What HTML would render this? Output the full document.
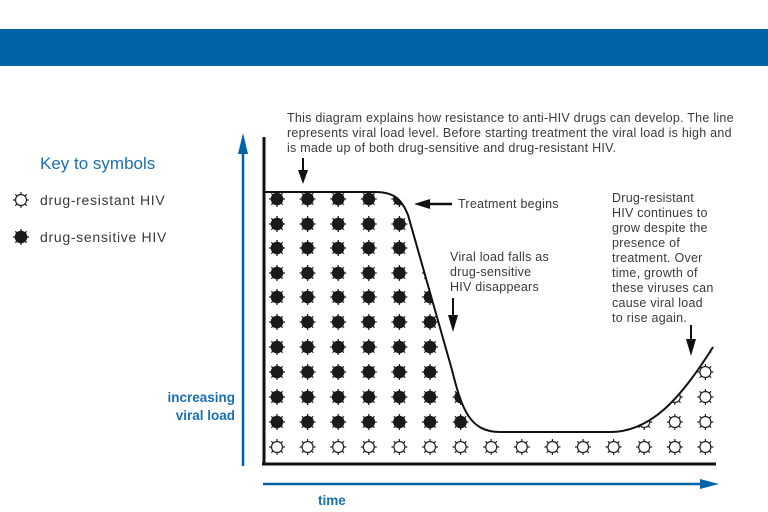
<!DOCTYPE html>
<html><head><meta charset="utf-8"><style>
body{margin:0;width:768px;height:512px;background:#fff;overflow:hidden;position:relative;font-family:"Liberation Sans",sans-serif}
</style></head><body>
<svg width="768" height="512" viewBox="0 0 768 512" xmlns="http://www.w3.org/2000/svg" style="position:absolute;left:0;top:0">
<defs>
<g id="f"><g stroke="#222" stroke-width="1.3"><line x1="0" y1="-8" x2="0" y2="8"/><line x1="-8" y1="0" x2="8" y2="0"/><line x1="-5.7" y1="-5.7" x2="5.7" y2="5.7"/><line x1="-5.7" y1="5.7" x2="5.7" y2="-5.7"/></g><circle r="6.3" fill="#1a1a1a"/></g>
<g id="o"><g stroke="#222" stroke-width="1.2"><line x1="0" y1="-8" x2="0" y2="8"/><line x1="-8" y1="0" x2="8" y2="0"/><line x1="-5.7" y1="-5.7" x2="5.7" y2="5.7"/><line x1="-5.7" y1="5.7" x2="5.7" y2="-5.7"/></g><circle r="5.5" fill="#fff" stroke="#222" stroke-width="1.2"/></g>
<clipPath id="c"><path d="M264,192 L375,192 C395,192 402,200 408,215 L452,370 C462,410 470,432 500,432 L610,432 C650,432 680,400 713,347 L716,347 L716,462 L264,462 Z"/></clipPath>
</defs>
<rect x="0" y="29" width="768" height="37" fill="#0063a7"/>
<g id="grid"></g>
<path d="M264,192 L375,192 C395,192 402,200 408,215 L452,370 C462,410 470,432 500,432 L610,432 C650,432 680,400 713,347" fill="none" stroke="#111" stroke-width="2"/>
<line x1="264" y1="137" x2="264" y2="465" stroke="#111" stroke-width="3"/>
<line x1="262" y1="464" x2="716" y2="464" stroke="#111" stroke-width="3"/>
<line x1="243" y1="150" x2="243" y2="466" stroke="#0063a7" stroke-width="2.5"/>
<polygon points="243,133 238,154 248,154" fill="#0063a7"/>
<line x1="263" y1="484" x2="702" y2="484" stroke="#0063a7" stroke-width="2.5"/>
<polygon points="719,484 700,479 700,489" fill="#0063a7"/>
<line x1="303" y1="158" x2="303" y2="172" stroke="#111" stroke-width="2"/><polygon points="303,184 298,170 308,170" fill="#111"/>
<line x1="428" y1="204" x2="452" y2="204" stroke="#111" stroke-width="2.5"/><polygon points="414,204 430,199 430,209" fill="#111"/>
<line x1="453" y1="298" x2="453" y2="318" stroke="#111" stroke-width="2"/><polygon points="453,332 448,315 458,315" fill="#111"/>
<line x1="691" y1="325" x2="691" y2="342" stroke="#111" stroke-width="2"/><polygon points="691,356 686,339 696,339" fill="#111"/>
<use href="#o" x="21" y="200"/><use href="#f" x="21" y="237"/>
<g font-family="Liberation Sans, sans-serif" fill="#3a3a3a" font-size="12.5" letter-spacing="0.25">
<text x="287" y="122">This diagram explains how resistance to anti-HIV drugs can develop. The line</text>
<text x="287" y="137">represents viral load level. Before starting treatment the viral load is high and</text>
<text x="287" y="152">is made up of both drug-sensitive and drug-resistant HIV.</text>
<text x="458" y="208">Treatment begins</text>
<text x="450" y="261">Viral load falls as</text>
<text x="450" y="276">drug-sensitive</text>
<text x="450" y="291">HIV disappears</text>
<text x="612" y="202">Drug-resistant</text>
<text x="612" y="217">HIV continues to</text>
<text x="612" y="232">grow despite the</text>
<text x="612" y="247">presence of</text>
<text x="612" y="262">treatment. Over</text>
<text x="612" y="277">time, growth of</text>
<text x="612" y="292">these viruses can</text>
<text x="612" y="307">cause viral load</text>
<text x="612" y="322">to rise again.</text>
<text x="40" y="205" font-size="14" letter-spacing="0.7">drug-resistant HIV</text>
<text x="40" y="242" font-size="14" letter-spacing="0.7">drug-sensitive HIV</text>
</g>
<g font-family="Liberation Sans, sans-serif" fill="#1a6fb3" font-weight="bold" font-size="13.5">
<text x="40" y="169" font-weight="normal" font-size="17">Key to symbols</text>
<text x="235" y="402" text-anchor="end">increasing</text>
<text x="235" y="420" text-anchor="end">viral load</text>
<text x="318" y="505">time</text>
</g>
</svg>
<script>
var g=document.getElementById('grid');
var ys=[199,224,248,273,297,322,347,372,397,422];
var cl='<g clip-path="url(#c)">';
for(var c=0;c<7;c++)for(var r=0;r<10;r++)cl+='<use href="#f" x="'+(277+c*30.6).toFixed(1)+'" y="'+ys[r]+'"/>';
for(var c=11;c<15;c++)for(var r=6;r<10;r++)cl+='<use href="#o" x="'+(277+c*30.6).toFixed(1)+'" y="'+ys[r]+'"/>';
cl+='</g>';
for(var c=0;c<15;c++)cl+='<use href="#o" x="'+(277+c*30.6).toFixed(1)+'" y="447"/>';
g.innerHTML=cl;
</script>
</body></html>
